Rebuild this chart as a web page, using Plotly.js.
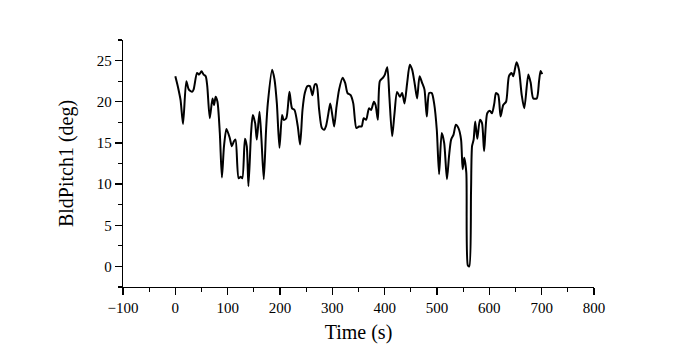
<!DOCTYPE html>
<html>
<head>
<meta charset="utf-8">
<script src="https://cdn.plot.ly/plotly-3.0.1.min.js"></script>
<style>html,body{margin:0;padding:0;background:#fff;}#chart{width:690px;height:344px;}</style>
</head>
<body>
<div id="chart"></div>
<script>
const timeS = [0, 5, 10, 14.7, 21, 25.6, 32, 35, 41.5, 45.3, 50, 54, 58, 61, 65.8, 71, 74, 77, 80.5, 85, 89, 93, 97.7, 104, 108, 112, 115, 121, 125, 128, 133, 136.5, 139.7, 144.7, 148, 152.5, 155.7, 160.8, 164.6, 169, 173.4, 176.7, 185, 189.5, 194, 199, 204, 207, 212, 218, 223, 227.7, 234, 238.4, 243, 247.4, 252.5, 257, 262, 266.5, 269.8, 274.8, 280, 284.4, 287.7, 292, 296, 300.4, 303.6, 308, 313, 319.5, 324.5, 329, 335, 340, 346, 351, 356, 360, 364.6, 370, 374, 379.4, 382.6, 387, 390.8, 396.5, 400.4, 405, 409, 414.3, 418.8, 423.7, 429, 433.4, 437.9, 443, 448, 452.5, 457.6, 462, 466.7, 471.5, 476, 480.5, 485, 490, 494.5, 499.6, 504, 509, 513.7, 519, 523, 527, 531.6, 536, 541, 546, 549, 552, 556, 559, 561.7, 565, 567, 570, 573, 577, 582, 586, 590, 596, 601, 605, 609.5, 612.6, 617, 621.5, 626.6, 632, 637.5, 642.6, 645.7, 652, 656.6, 661.8, 666.8, 674.5, 679, 684, 690.6, 695, 698, 701];
const bldPitch1 = [23.1, 21.8, 20.2, 17.3, 22.5, 21.5, 21.2, 21.5, 23.5, 23.3, 23.7, 23.3, 23.1, 21.9, 18.0, 20.4, 19.6, 20.6, 20.0, 16.2, 10.8, 14.6, 16.7, 15.6, 14.6, 15.2, 15.4, 10.7, 10.9, 10.7, 15.5, 14.6, 9.75, 16.2, 18.4, 17.4, 15.4, 18.8, 15.4, 10.6, 16.6, 19.8, 23.9, 22.7, 19.8, 14.4, 18.4, 17.8, 18.0, 21.2, 19.2, 19.0, 17.0, 14.8, 19.0, 21.05, 21.9, 21.9, 20.8, 22.1, 22.1, 19.0, 16.8, 16.6, 17.0, 18.4, 19.8, 18.2, 17.0, 19.4, 21.5, 22.9, 22.3, 21.05, 20.8, 19.8, 16.8, 17.0, 17.0, 18.0, 17.8, 19.2, 19.0, 20.0, 19.6, 17.8, 22.5, 22.9, 23.3, 24.2, 20.6, 15.8, 18.6, 21.2, 20.6, 21.05, 19.8, 22.3, 24.5, 23.9, 22.1, 20.4, 23.1, 22.3, 21.5, 18.2, 21.05, 21.05, 19.8, 16.6, 11.2, 16.2, 15.0, 10.6, 13.4, 15.4, 16.0, 17.2, 16.8, 15.4, 11.8, 13.2, 11.4, 0.1, 0.0, 9.0, 14.6, 15.4, 17.6, 15.5, 17.8, 17.4, 14.0, 18.6, 18.9, 18.6, 19.8, 21.05, 20.85, 18.2, 19.6, 20.0, 23.1, 23.5, 23.1, 24.8, 23.9, 20.85, 19.2, 23.3, 22.3, 20.4, 20.4, 22.5, 23.75, 23.35];
const xTickVals = [-100, 0, 100, 200, 300, 400, 500, 600, 700, 800];
const yTickVals = [0, 5, 10, 15, 20, 25];
const xTitle = 'Time (s)';
const yTitle = 'BldPitch1 (deg)';

const fontFam = '"Liberation Serif", "DejaVu Serif", serif';
const trace = {
  x: timeS, y: bldPitch1, type: 'scatter', mode: 'lines',
  line: {color: '#000000', width: 2, shape: 'spline', smoothing: 0.7}, hoverinfo: 'skip'
};
const layout = {
  width: 690, height: 344,
  margin: {l: 123, r: 96, t: 40, b: 57},
  paper_bgcolor: '#ffffff', plot_bgcolor: '#ffffff',
  showlegend: false,
  font: {family: fontFam, color: '#000000', size: 15},
  xaxis: {
    range: [-100, 800], tickvals: xTickVals, ticktext: xTickVals.map(v => v < 0 ? '\u2212' + Math.abs(v) : String(v)),
    ticks: 'outside', ticklen: 7, tickwidth: 1.2, tickcolor: '#000',
    minor: {dtick: 50, tick0: 0, ticks: 'outside', ticklen: 4, tickwidth: 1.2, tickcolor: '#000'},
    showline: true, linecolor: '#000', linewidth: 1.3, showgrid: false, zeroline: false,
    tickfont: {family: fontFam, size: 15, color: '#000'},
    title: {text: xTitle, font: {family: fontFam, size: 20, color: '#000'}, standoff: 11}
  },
  yaxis: {
    range: [-2.5, 27.5], tickvals: yTickVals,
    ticks: 'outside', ticklen: 7, tickwidth: 1.2, tickcolor: '#000',
    minor: {dtick: 2.5, tick0: 0, ticks: 'outside', ticklen: 4, tickwidth: 1.2, tickcolor: '#000'},
    showline: true, linecolor: '#000', linewidth: 1.3, showgrid: false, zeroline: false,
    tickfont: {family: fontFam, size: 15, color: '#000'},
    title: {text: yTitle, font: {family: fontFam, size: 20, color: '#000'}, standoff: 17}
  }
};
Plotly.newPlot('chart', [trace], layout, {staticPlot: true, displayModeBar: false});
</script>
</body>
</html>
